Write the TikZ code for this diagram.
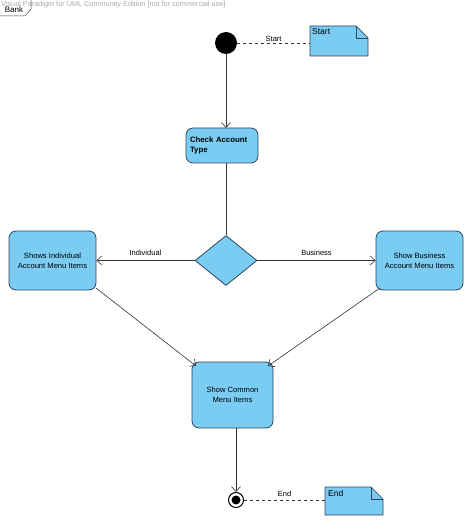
\documentclass[tikz,border=0pt]{standalone}
\usepackage{fontspec}
\setmainfont{Liberation Sans}
\usetikzlibrary{arrows.meta,shapes.geometric}
\definecolor{actfill}{RGB}{122,204,243}
\definecolor{actline}{RGB}{44,70,96}
\definecolor{wm}{RGB}{170,170,170}
\tikzset{
  act/.style={draw=actline,fill=actfill,rounded corners=7pt,line width=0.8pt,minimum width=#1,align=center,font=\fontsize{7.6}{10}\selectfont,inner sep=2pt},
  flow/.style={draw=black!80,line width=0.6pt,-{Straight Barb[length=5pt,width=9pt]}},
  plain/.style={draw=black!80,line width=0.6pt},
  anch/.style={draw=black!80,line width=0.6pt,dashed},
  lbl/.style={font=\fontsize{7.5}{9}\selectfont,inner sep=1pt},
  notebox/.style={draw=actline,fill=actfill,line width=0.7pt}
}
\begin{document}
\begin{tikzpicture}[x=1pt,y=-1pt]
\useasboundingbox (0,0) rectangle (474,526);
\fill[white] (0,0) rectangle (474,526);
% watermark and frame tab
\node[anchor=west,text=wm,font=\fontsize{7.3}{8}\selectfont,inner sep=0pt] (wmk) at (1,5) {Visual Paradigm for UML Community Edition [not for commercial use]};
\fill[white] (3,9) -- (25,9) -- (25,16) -- (3,16) -- cycle;
\draw[black!70,line width=0.5pt] (0,16) -- (25,16) -- (31,9) -- (31,0);
\node[font=\fontsize{8}{9}\selectfont,inner sep=0pt] (bank) at (14,10) {Bank};
% initial node
\node[circle,fill=black,minimum size=22pt,inner sep=0pt] (init) at (226,43) {};
% start note
\draw[notebox] (310,26) -- (356,26) -- (368,38) -- (368,56) -- (310,56) -- cycle;
\draw[actline,line width=0.7pt] (356,26) -- (356,38) -- (368,38);
\coordinate (snote) at (310,43);
\node[anchor=north west,font=\fontsize{8.5}{10}\selectfont,inner sep=0pt] (stxt) at (312,28) {Start};
\draw[anch] (init) -- (snote) node[lbl,midway,above=0pt] {Start};
% check account type
\node[act=72pt,minimum height=35pt,align=left,font=\bfseries\fontsize{7.8}{10.5}\selectfont,text width=64pt] (check) at (222,145.5) {Check Account\\Type};
% decision
\node[diamond,draw=actline,fill=actfill,line width=0.8pt,minimum width=62pt,minimum height=50pt,inner sep=0pt,aspect=1.24] (dec) at (226,260.5) {};
% side activities
\node[act=87pt,minimum height=59pt] (indiv) at (52.5,260.5) {Shows Individual\\Account Menu Items};
\node[act=87pt,minimum height=59pt] (bus) at (419.5,260.5) {Show Business\\Account Menu Items};
% common
\node[act=81pt,minimum height=66pt] (common) at (232.5,395) {Show Common\\Menu Items};
% final node
\node[circle,draw=black,line width=1pt,fill=white,minimum size=15pt,inner sep=0pt] (final) at (236,500) {};
\fill[black] (final.center) circle (4.5pt);
% end note
\draw[notebox] (325,487) -- (371,487) -- (383,499) -- (383,515) -- (325,515) -- cycle;
\draw[actline,line width=0.7pt] (371,487) -- (371,499) -- (383,499);
\coordinate (enote) at (325,500);
\node[anchor=north west,font=\fontsize{8.5}{10}\selectfont,inner sep=0pt] (etxt) at (328,490) {End};
\draw[anch] (final) -- (enote) node[lbl,midway,above=2pt] {End};
% connectors
\draw[flow] (init) -- (226,128);
\draw[plain] (226,163) -- (dec.north);
\draw[flow] (dec.west) -- (indiv.east) node[lbl,midway,above=4pt] {Individual};
\draw[flow] (dec.east) -- (bus.west) node[lbl,midway,above=4pt] {Business};
\draw[flow] (96,288) -- (196,366);
\draw[flow] (380,288) -- (268,366);
\draw[flow] (236,428) -- (final);
\end{tikzpicture}
\end{document}
